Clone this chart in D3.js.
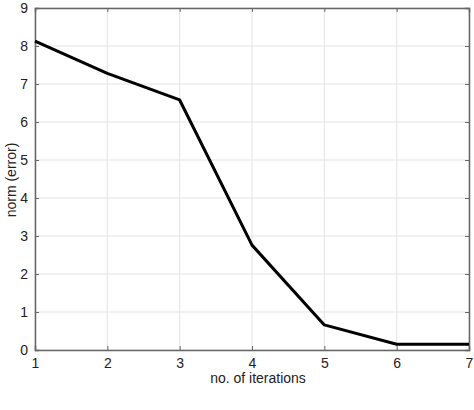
<!DOCTYPE html>
<html><head><meta charset="utf-8">
<script src="https://cdn.jsdelivr.net/npm/d3@7"></script>
<style>body{margin:0;background:#fff}svg{display:block}text{font-family:"Liberation Sans",Arial,sans-serif}</style>
</head><body>
<svg id="c" width="474" height="410"></svg>
<script>
const iterations = [1, 2, 3, 4, 5, 6, 7];
const normError = [8.13, 7.28, 6.58, 2.76, 0.66, 0.15, 0.15];
const xTicks = [1, 2, 3, 4, 5, 6, 7];
const yTicks = [0, 1, 2, 3, 4, 5, 6, 7, 8, 9];
const xTitle = "no. of iterations";
const yTitle = "norm (error)";

const svg = d3.select("#c");
const m = {l: 35, r: 469, t: 8, b: 350};
const x = d3.scaleLinear().domain([1, 7]).range([m.l, m.r]);
const y = d3.scaleLinear().domain([0, 9]).range([m.b, m.t]);

// grid
svg.append("g").selectAll("line").data(xTicks).join("line")
  .attr("x1", d => x(d)).attr("x2", d => x(d)).attr("y1", m.t).attr("y2", m.b)
  .attr("stroke", "#e3e3e3").attr("stroke-width", 1);
svg.append("g").selectAll("line").data(yTicks).join("line")
  .attr("x1", m.l).attr("x2", m.r).attr("y1", d => y(d)).attr("y2", d => y(d))
  .attr("stroke", "#e3e3e3").attr("stroke-width", 1);

const axColor = "#666";
const fontSize = 14;
// axes
const gx = svg.append("g").attr("transform", `translate(0,${m.b})`)
  .call(d3.axisBottom(x).tickValues(xTicks).tickSize(-4).tickPadding(8).tickFormat(d3.format("d")));
const gy = svg.append("g").attr("transform", `translate(${m.l},0)`)
  .call(d3.axisLeft(y).tickValues(yTicks).tickSize(-4).tickPadding(7).tickFormat(d3.format("d")));
const gt = svg.append("g").attr("transform", `translate(0,${m.t})`)
  .call(d3.axisTop(x).tickValues(xTicks).tickSize(-4).tickFormat(""));
const gr = svg.append("g").attr("transform", `translate(${m.r},0)`)
  .call(d3.axisRight(y).tickValues(yTicks).tickSize(-4).tickFormat(""));
[gx, gy, gt, gr].forEach(g => {
  g.select(".domain").attr("stroke", axColor).attr("stroke-width", 1.5);
  g.selectAll(".tick line").attr("stroke", axColor);
  g.selectAll(".tick text").attr("fill", "#222").attr("font-size", fontSize)
    .attr("font-family", '"Liberation Sans",Arial,sans-serif');
});

// line
svg.append("path").datum(iterations.map((d, i) => [d, normError[i]]))
  .attr("fill", "none").attr("stroke", "#000").attr("stroke-width", 3)
  .attr("stroke-linejoin", "round")
  .attr("d", d3.line().x(d => x(d[0])).y(d => y(d[1])));

// titles
svg.append("text").attr("x", 258).attr("y", 383)
  .attr("text-anchor", "middle").attr("font-size", fontSize).attr("fill", "#222").text(xTitle);
svg.append("text").attr("transform", `translate(16,180) rotate(-90)`)
  .attr("text-anchor", "middle").attr("font-size", fontSize).attr("fill", "#222").text(yTitle);
</script>
</body></html>
